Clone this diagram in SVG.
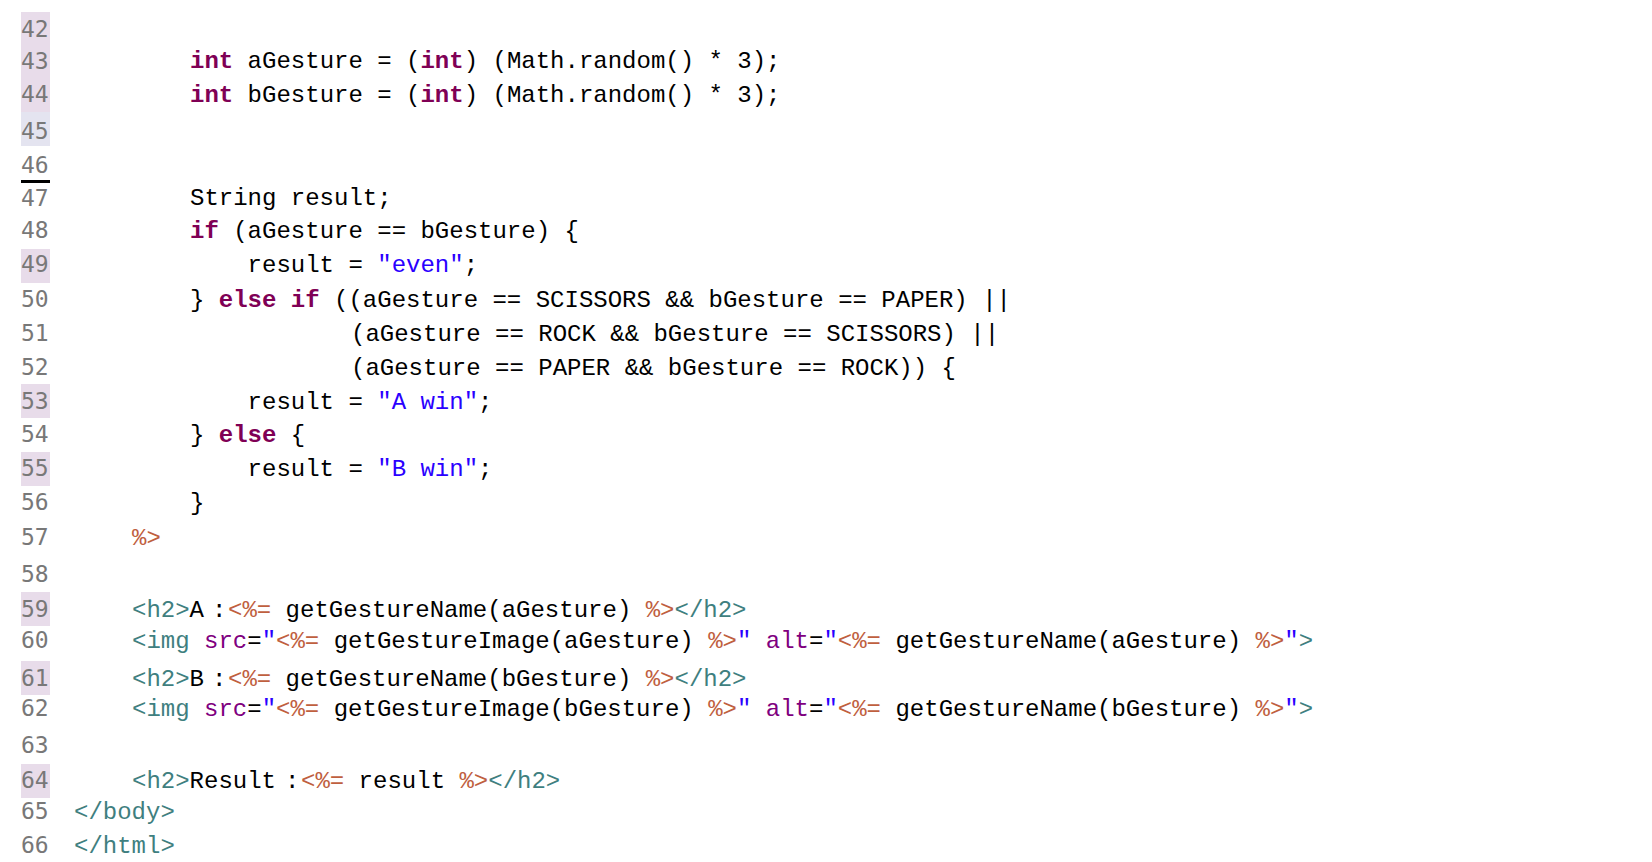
<svg xmlns="http://www.w3.org/2000/svg" width="1652" height="862" viewBox="0 0 1652 862">
<style>
text{font-family:"Liberation Mono","DejaVu Sans Mono",monospace;font-size:24px;fill:#000;white-space:pre}
.n{font-family:"DejaVu Sans Mono","Liberation Mono",monospace;font-size:23px;fill:#787878}
.k{fill:#7f0055;font-weight:bold}
.s{fill:#2a00ff}
.t{fill:#3f7f7f}
.a{fill:#7f007f}
.j{fill:#bf5f3f}
</style>
<rect width="1652" height="862" fill="#fff"/>
<g id="gutter" fill="#e8dcea">
<rect x="21" y="12" width="29" height="128"/>
<rect x="21" y="112" width="29" height="34" fill="#e4e4f0"/>
<rect x="21" y="249" width="29" height="34"/>
<rect x="21" y="384" width="29" height="34"/>
<rect x="21" y="452" width="29" height="34"/>
<rect x="21" y="592" width="29" height="34"/>
<rect x="21" y="661" width="29" height="34"/>
<rect x="21" y="764" width="29" height="34"/>
<rect x="21" y="180" width="29" height="3" fill="#000"/>
</g>
<g id="numbers">
<text class="n" x="21" y="37">42</text>
<text class="n" x="21" y="69">43</text>
<text class="n" x="21" y="102">44</text>
<text class="n" x="21" y="139">45</text>
<text class="n" x="21" y="173">46</text>
<text class="n" x="21" y="206">47</text>
<text class="n" x="21" y="238">48</text>
<text class="n" x="21" y="272">49</text>
<text class="n" x="21" y="307">50</text>
<text class="n" x="21" y="341">51</text>
<text class="n" x="21" y="375">52</text>
<text class="n" x="21" y="409">53</text>
<text class="n" x="21" y="442">54</text>
<text class="n" x="21" y="476">55</text>
<text class="n" x="21" y="510">56</text>
<text class="n" x="21" y="545">57</text>
<text class="n" x="21" y="582">58</text>
<text class="n" x="21" y="617">59</text>
<text class="n" x="21" y="648">60</text>
<text class="n" x="21" y="686">61</text>
<text class="n" x="21" y="716">62</text>
<text class="n" x="21" y="753">63</text>
<text class="n" x="21" y="788">64</text>
<text class="n" x="21" y="819">65</text>
<text class="n" x="21" y="853">66</text>
</g>
<g id="code">
<text x="190" y="68"><tspan class="k">int</tspan> aGesture = (<tspan class="k">int</tspan>) (Math.random() * 3);</text>
<text x="190" y="102"><tspan class="k">int</tspan> bGesture = (<tspan class="k">int</tspan>) (Math.random() * 3);</text>
<text x="190" y="205">String result;</text>
<text x="190" y="238"><tspan class="k">if</tspan> (aGesture == bGesture) {</text>
<text x="190" y="272">    result = <tspan class="s">"even"</tspan>;</text>
<text x="190" y="307">} <tspan class="k">else</tspan> <tspan class="k">if</tspan> ((aGesture == SCISSORS &amp;&amp; bGesture == PAPER) ||</text>
<text x="351" y="341">(aGesture == ROCK &amp;&amp; bGesture == SCISSORS) ||</text>
<text x="351" y="375">(aGesture == PAPER &amp;&amp; bGesture == ROCK)) {</text>
<text x="190" y="409">    result = <tspan class="s">"A win"</tspan>;</text>
<text x="190" y="442">} <tspan class="k">else</tspan> {</text>
<text x="190" y="476">    result = <tspan class="s">"B win"</tspan>;</text>
<text x="190" y="510">}</text>
<text x="132" y="545" class="j">%&gt;</text>
<text x="132" y="617"><tspan class="t">&lt;h2&gt;</tspan>A<tspan x="212">:</tspan><tspan x="228" class="j">&lt;%=</tspan> getGestureName(aGesture) <tspan class="j">%&gt;</tspan><tspan class="t">&lt;/h2&gt;</tspan></text>
<text x="132" y="648"><tspan class="t">&lt;img</tspan> <tspan class="a">src</tspan>=<tspan class="s">"</tspan><tspan class="j">&lt;%=</tspan> getGestureImage(aGesture) <tspan class="j">%&gt;</tspan><tspan class="s">"</tspan> <tspan class="a">alt</tspan>=<tspan class="s">"</tspan><tspan class="j">&lt;%=</tspan> getGestureName(aGesture) <tspan class="j">%&gt;</tspan><tspan class="s">"</tspan><tspan class="t">&gt;</tspan></text>
<text x="132" y="686"><tspan class="t">&lt;h2&gt;</tspan>B<tspan x="212">:</tspan><tspan x="228" class="j">&lt;%=</tspan> getGestureName(bGesture) <tspan class="j">%&gt;</tspan><tspan class="t">&lt;/h2&gt;</tspan></text>
<text x="132" y="716"><tspan class="t">&lt;img</tspan> <tspan class="a">src</tspan>=<tspan class="s">"</tspan><tspan class="j">&lt;%=</tspan> getGestureImage(bGesture) <tspan class="j">%&gt;</tspan><tspan class="s">"</tspan> <tspan class="a">alt</tspan>=<tspan class="s">"</tspan><tspan class="j">&lt;%=</tspan> getGestureName(bGesture) <tspan class="j">%&gt;</tspan><tspan class="s">"</tspan><tspan class="t">&gt;</tspan></text>
<text x="132" y="788"><tspan class="t">&lt;h2&gt;</tspan>Result<tspan x="285">:</tspan><tspan x="301" class="j">&lt;%=</tspan> result <tspan class="j">%&gt;</tspan><tspan class="t">&lt;/h2&gt;</tspan></text>
<text x="74" y="819" class="t">&lt;/body&gt;</text>
<text x="74" y="853" class="t">&lt;/html&gt;</text>
</g>
</svg>
